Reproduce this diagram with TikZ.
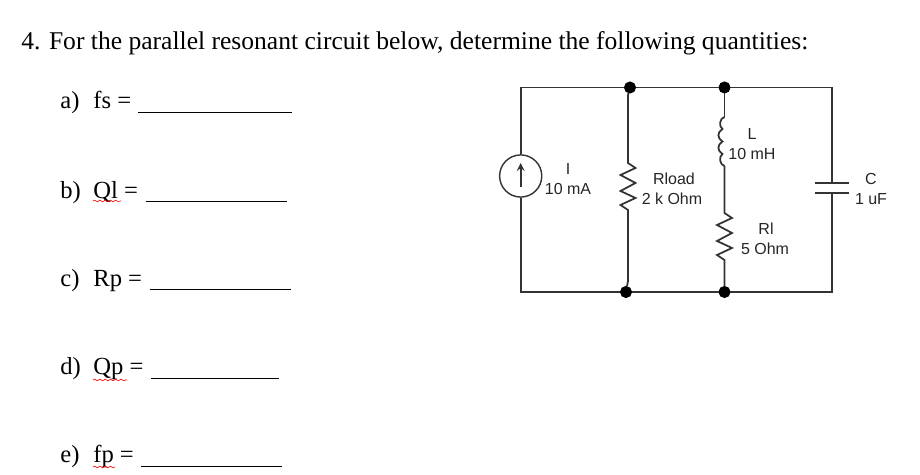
\documentclass[tikz,border=0pt]{standalone}
\usepackage{fontspec}
\setmainfont{Liberation Serif}
\newfontfamily\labelfont{Liberation Sans}
\usetikzlibrary{arrows,calc,decorations.pathmorphing}
\tikzstyle{junction}=[circle,fill=black,draw,minimum size=11.5pt,inner sep=0pt,scale=0.56]
\tikzstyle{wire}=[line width=1pt,black!80]
\tikzstyle{source}=[circle,draw,black!80,line width=0.8pt,minimum size=24pt,inner sep=0pt]
\tikzstyle{part}=[font=\labelfont\fontsize{9.1}{11}\selectfont,black!85,inner sep=0pt]
\tikzstyle{question}=[anchor=base west,font=\fontsize{14}{16}\selectfont,inner sep=0pt]
\tikzstyle{title}=[anchor=base west,font=\fontsize{14.55}{17}\selectfont,inner sep=0pt]
\tikzstyle{blank}=[line width=0.5pt,black]
\tikzstyle{spell}=[red,line width=0.35pt,decorate,decoration={snake,segment length=3pt,amplitude=0.5pt}]
\begin{document}
\begin{tikzpicture}[x=0.02cm,y=-0.02cm]
    \useasboundingbox (0,0) rectangle (920,475);
    \fill[white] (0,0) rectangle (920,475);

    \node[title] (head) at (21,50) {4. For the parallel resonant circuit below, determine the following quantities:};

    % questions
    \foreach \pos/\name/\txt in {{(60,109)/qa/a)},{(60,199)/qb/b)},{(60,287)/qc/c)},{(60,375)/qd/d)},{(60,463)/qe/e)}}
        \node[question] (\name) at \pos {\txt};
    \foreach \pos/\name/\txt in {{(93,109)/va/fs =},{(93,199)/vb/Ql =},{(93,287)/vc/Rp =},{(93,375)/vd/Qp =},{(93,463)/ve/fp =}}
        \node[question] (\name) at \pos {\txt};

    \foreach \x/\y/\xx/\name in {138/112/292/a,146/201/287/b,150/289/291/c,151/378/279/d,141/466/282/e}{
        \coordinate (\name1) at (\x,\y);
        \coordinate (\name2) at (\xx,\y);
        \draw[blank] (\name1) to (\name2);
    }

    \draw[spell] (93,201) to (121,201);
    \draw[spell] (93,380) to (127,380);
    \draw[spell] (93,467) to (115,467);

    % circuit
    \foreach \pos/\name in {{(630,87.5)/ja},{(724.5,87.5)/jb},{(626,292)/jc},{(724.5,292)/jd}}
        \node[junction] (\name) at \pos {};
    \node[source] (src) at (520.7,176) {};
    \foreach \x/\y/\name in {520.7/87.5/tl,832/87.5/tr,520.7/292/bl,832/292/br,628/95/ra,628/163/rb,628/210/rc,628/281/rd,724.5/117/la,724.5/166/lb,724.5/213/rla,724.5/260/rlb,832/183/ca,832/193/cb,815/183/cal,849/183/car,815/193/cbl,849/193/cbr,520.7/187/aa,520.7/163/ab}
        \coordinate (\name) at (\x,\y);

    \draw[wire] (src.north) -- (tl) -- (ja) -- (jb) -- (tr) -- (ca);
    \draw[wire] (src.south) -- (bl) -- (jc) -- (jd) -- (br) -- (cb);
    \draw[wire] (cal) -- (car);
    \draw[wire] (cbl) -- (cbr);
    \draw[wire,->,>=stealth] (aa) to (ab);

    \draw[wire] (ja) -- (ra) -- (rb) -- ++(7.5,5) -- ++(-15,7) -- ++(15,8) -- ++(-15,8) -- ++(15,7) -- ++(-15,7) -- (rc) -- (rd) -- (jc);
    \draw[wire] (jb) -- (la);
    \draw[wire] (la) to[out=190,in=150] ++(-2,12) to[out=210,in=150,looseness=1.3] ++(0,12.5) to[out=210,in=150,looseness=1.3] ++(0,12.5) to[out=210,in=170] (lb);
    \draw[wire] (lb) -- (rla) -- ++(7.5,5) -- ++(-15,7) -- ++(15,8) -- ++(-15,8) -- ++(15,7) -- ++(-15,7) -- (rlb) -- (jd);

    \node[part] (ilabel) at (568,169) {I};
    \node[part] (ivalue) at (568,189) {10 mA};
    \node[part] (rname) at (674,179) {Rload};
    \node[part] (rvalue) at (672,199) {2 k Ohm};
    \node[part] (lname) at (752,134) {L};
    \node[part] (lvalue) at (752,154) {10 mH};
    \node[part] (rlname) at (766,229) {Rl};
    \node[part] (rlvalue) at (765,249) {5 Ohm};
    \node[part] (cname) at (871,179) {C};
    \node[part] (cvalue) at (871,199) {1 uF};
\end{tikzpicture}
\end{document}
